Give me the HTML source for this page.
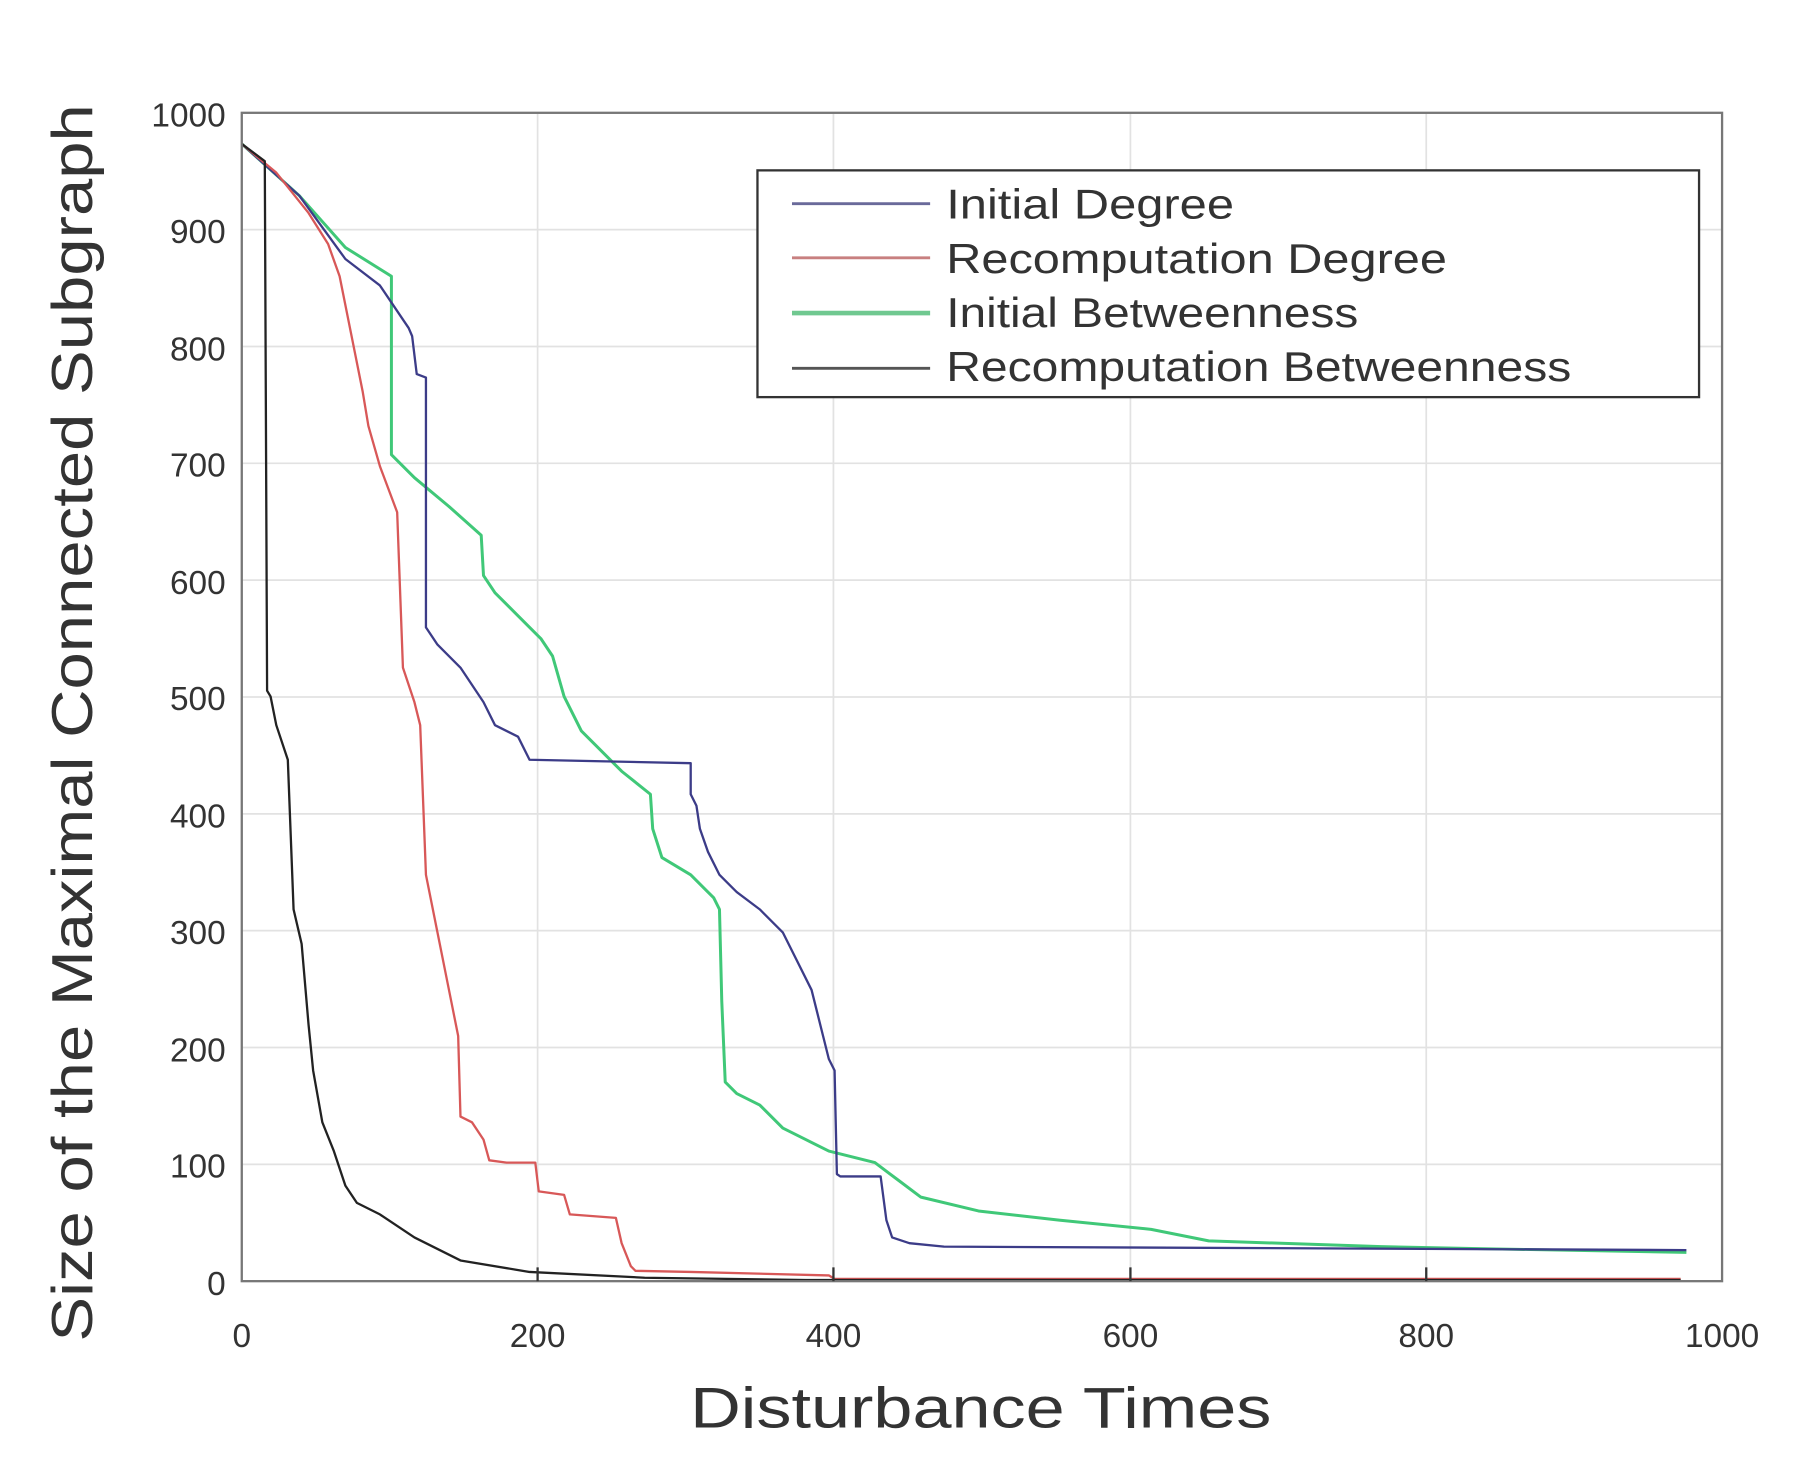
<!DOCTYPE html>
<html><head><meta charset="utf-8"><style>
html,body{margin:0;padding:0;background:#fff;}
svg{display:block;}
text{font-family:"Liberation Sans","DejaVu Sans",sans-serif;fill:#333;}
</style></head><body>
<svg width="1805" height="1465" viewBox="0 0 1568 1272.7" xmlns="http://www.w3.org/2000/svg">
<rect width="1568" height="1273" fill="#fff"/>
<g stroke="#e2e2e2" stroke-width="1.5">
<line x1="467" y1="98" x2="467" y2="1113"/><line x1="724" y1="98" x2="724" y2="1113"/>
<line x1="982" y1="98" x2="982" y2="1113"/><line x1="1239" y1="98" x2="1239" y2="1113"/>
<line x1="210" y1="199.5" x2="1496" y2="199.5"/><line x1="210" y1="301" x2="1496" y2="301"/>
<line x1="210" y1="402.5" x2="1496" y2="402.5"/><line x1="210" y1="504" x2="1496" y2="504"/>
<line x1="210" y1="605.5" x2="1496" y2="605.5"/><line x1="210" y1="707" x2="1496" y2="707"/>
<line x1="210" y1="808.5" x2="1496" y2="808.5"/><line x1="210" y1="910" x2="1496" y2="910"/>
<line x1="210" y1="1011.5" x2="1496" y2="1011.5"/>
</g>
<g fill="none" stroke-width="2" stroke-linejoin="round">
<polyline stroke="#40c878" stroke-width="2.6" points="210,125 260,170 300,215 340,240 340,395 360,415 390,440 418,465 420,500 430,515 450,535 470,555 480,570 490,605 505,635 520,650 540,670 565,690 567,720 575,745 600,760 620,780 625,790 627,870 630,940 640,950 660,960 680,980 700,990 720,1000 760,1010 780,1025 800,1040 850,1052 920,1060 1000,1068 1050,1078 1200,1083 1300,1085 1465,1088"/>
<polyline stroke="#3c3c88" points="210,125 260,170 300,225 330,248 355,285 358,292 362,325 370,328 370,545 380,560 400,580 420,610 430,630 450,640 460,660 600,663 600,690 605,700 608,720 615,740 625,760 640,775 660,790 680,810 690,830 705,860 710,880 715,900 720,920 725,930 727,1020 730,1022 765,1022 770,1060 775,1075 790,1080 820,1083 1465,1086"/>
<polyline stroke="#d85858" points="210,125 240,150 268,185 285,212 295,240 305,290 315,340 320,370 330,405 345,445 350,580 360,610 365,630 370,760 380,810 390,860 398,900 400,970 410,975 420,990 425,1008 440,1010 465,1010 468,1035 490,1038 495,1055 535,1058 540,1080 548,1100 552,1104 600,1105 720,1108 725,1111 1460,1111"/>
<polyline stroke="#222" points="210,125 230,140 232,600 235,605 240,630 250,660 255,790 262,820 268,890 272,930 280,975 290,1000 300,1030 310,1045 330,1055 360,1075 400,1095 460,1105 560,1110 700,1112 1460,1112"/>
</g>
<rect x="210" y="98" width="1286" height="1015" fill="none" stroke="#777" stroke-width="2"/>
<g stroke="#333" stroke-width="2">
<line x1="467" y1="1113" x2="467" y2="1101"/><line x1="724" y1="1113" x2="724" y2="1101"/><line x1="982" y1="1113" x2="982" y2="1101"/><line x1="1239" y1="1113" x2="1239" y2="1101"/>
</g>
<g font-size="29" text-anchor="end">
<text x="196" y="110">1000</text><text x="196" y="211">900</text><text x="196" y="313">800</text>
<text x="196" y="414">700</text><text x="196" y="516">600</text><text x="196" y="617">500</text>
<text x="196" y="719">400</text><text x="196" y="820">300</text><text x="196" y="922">200</text>
<text x="196" y="1023">100</text><text x="196" y="1125">0</text>
</g>
<g font-size="29" text-anchor="middle">
<text x="210" y="1170">0</text><text x="467" y="1170">200</text><text x="724" y="1170">400</text>
<text x="982" y="1170">600</text><text x="1239" y="1170">800</text><text x="1496" y="1170">1000</text>
</g>
<text x="852" y="1240" font-size="50" text-anchor="middle" textLength="505" lengthAdjust="spacingAndGlyphs" fill="#222">Disturbance Times</text>
<text transform="translate(80,628) rotate(-90)" font-size="50" text-anchor="middle" textLength="1075" lengthAdjust="spacingAndGlyphs" fill="#222">Size of the Maximal Connected Subgraph</text>
<rect x="658" y="148" width="818" height="197" fill="#fff" stroke="#333" stroke-width="2"/>
<g stroke-width="2.5">
<line x1="688" y1="177" x2="808" y2="177" stroke="#6a6a9a"/>
<line x1="688" y1="224" x2="808" y2="224" stroke="#c88080"/>
<line x1="688" y1="272" x2="808" y2="272" stroke="#70c890" stroke-width="4"/>
<line x1="688" y1="320" x2="808" y2="320" stroke="#555"/>
</g>
<g font-size="36">
<text x="822" y="190" fill="#222" textLength="250" lengthAdjust="spacingAndGlyphs">Initial Degree</text>
<text x="822" y="237" fill="#222" textLength="435" lengthAdjust="spacingAndGlyphs">Recomputation Degree</text>
<text x="822" y="284" fill="#222" textLength="358" lengthAdjust="spacingAndGlyphs">Initial Betweenness</text>
<text x="822" y="331" fill="#222" textLength="543" lengthAdjust="spacingAndGlyphs">Recomputation Betweenness</text>
</g>
</svg>
</body></html>
